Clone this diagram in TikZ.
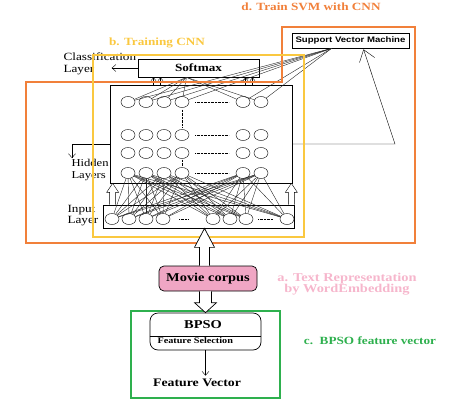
\documentclass[tikz,border=0pt]{standalone}
\usepackage{fontspec}
\setmainfont{Liberation Serif}[FakeStretch=1.2]
\setsansfont{Liberation Sans}[FakeStretch=1.2]
\usetikzlibrary{arrows.meta,calc,shapes.geometric}
\definecolor{svmorange}{RGB}{241,128,58}
\definecolor{cnnyellow}{RGB}{250,200,64}
\definecolor{bpsogreen}{RGB}{46,176,78}
\definecolor{wordpink}{RGB}{246,182,204}
\definecolor{corpuspink}{RGB}{240,166,196}

\begin{document}
\begin{tikzpicture}[x=1pt,y=-1pt,
  neuron/.style={draw,ellipse,minimum width=14pt,minimum height=11pt,inner sep=0pt},
  layerbox/.style={draw,line width=0.7pt,inner sep=0pt},
  wire/.style={line width=0.4pt,black!85},
  frame/.style={line width=2.6pt},
  barb/.style={-{Straight Barb[length=4pt,width=7pt]}},
  head/.style={font=\bfseries\fontsize{11}{13}\selectfont}]
\useasboundingbox (0,0) rectangle (474,413);

% stage labels
\node[head,text=svmorange] (svmlbl) at (311,7) {d. Train SVM with CNN};
\node[head,text=cnnyellow] (cnnlbl) at (157,43) {b. Training CNN};
\node[font=\bfseries\fontsize{12}{11}\selectfont,text=wordpink,align=center] (wordlbl) at (347,284) {a. Text Representation\\by WordEmbedding};
\node[head,text=bpsogreen] (bpsolbl) at (370,341) {c.\ \ BPSO feature vector};

% boxes
\node[layerbox,minimum width=117pt,minimum height=15pt,font=\sffamily\bfseries\fontsize{8}{9}\selectfont] (svm) at (350.5,40.5) {Support Vector Machine};
\node[layerbox,minimum width=121pt,minimum height=18pt,font=\bfseries\fontsize{11}{13}\selectfont] (softmax) at (198.5,68) {Softmax};
\node[layerbox,minimum width=182pt,minimum height=98pt] (hidbox) at (201,134) {};
\node[layerbox,minimum width=191pt,minimum height=23pt] (inbox) at (198.5,216.5) {};

% layer names
\node[font=\fontsize{11}{12}\selectfont,align=left,anchor=west] (clsname) at (60,64) {Classification\\Layer};
\node[font=\fontsize{10.5}{12}\selectfont,align=left,anchor=west] (hidname) at (68,170) {Hidden\\Layers};
\node[font=\fontsize{11}{11}\selectfont,align=left,anchor=west] (inname) at (64,215.5) {Input\\Layer};

% neurons
\foreach \row/\y in {1/102,2/135,3/153,4/173}
  \foreach \x [count=\i] in {128,146,164,182,243,261}
    \node[neuron] (r\row-\i) at (\x,\y) {};
\foreach \x [count=\i] in {112,129,146,163,213,230,246,287}
  \node[neuron] (in-\i) at (\x,219) {};
\foreach \row in {1,2,3,4}
  \draw[densely dotted,shorten <=6pt,shorten >=7pt] (r\row-4) -- (r\row-5);
\draw[densely dotted,shorten <=9pt,shorten >=17pt] (in-4) -- (in-5);
\draw[densely dotted,shorten <=5pt,shorten >=7pt] (in-7) -- (in-8);
\draw[densely dotted,shorten <=2pt,shorten >=2pt] (r1-4) -- (r2-4);
\draw[densely dotted,shorten <=1pt,shorten >=1pt] (r3-4) -- (r4-4);

% input to hidden
\foreach \i in {1,...,8}
  \foreach \j in {1,...,6}
    \draw[wire] (in-\i) -- (r4-\j);

% hidden to softmax and svm
\coordinate (smin) at ($(softmax.south)+(-12,0)$);
\coordinate (svmin) at ($(svm.south west)+(40,0)$);
\foreach \i in {1,...,6} {
  \draw[wire] (r1-\i) -- (smin);
  \draw[wire] (r1-\i) -- (svmin);
}
\foreach \dx in {-45,-38,47,54}
  \draw[-{Straight Barb[length=3pt,width=5pt]}] ($(softmax.south)+(\dx,8)$) -- ($(softmax.south)+(\dx,0)$);

% side connectors
\draw[barb] (softmax.west) -- ++(-26,0);
\coordinate (hidend) at (72,158);
\draw[barb] ($(hidbox.west)+(0,10)$) -| (hidend);
\coordinate (svmturn) at (395,144);
\draw[-{Straight Barb[length=11pt,width=16pt]}] ($(hidbox.east)+(0,10)$) -- (svmturn) -- ($(svm.south)+(13,1)$);

% hollow arrows between input and hidden box
\foreach \side/\dx in {north west/10,north east/-3} {
  \coordinate (b) at ($(inbox.\side)+(\dx,0)$);
  \coordinate (t) at (b |- hidbox.south);
  \draw[fill=white] ($(b)+(-3,0)$) -- ($(t)+(-3,9)$) -- ($(t)+(-6,9)$) -- (t)
    -- ($(t)+(6,9)$) -- ($(t)+(3,9)$) -- ($(b)+(3,0)$);
}

% frames
\draw[frame,svmorange] (26,82) -- (282,82) -- (282,27) -- (415,27) -- (415,243) -- (26,243) -- cycle;
\draw[frame,cnnyellow] (93,55) rectangle (304,237);
\draw[frame,bpsogreen] (131,311) rectangle (280,398);

% corpus and BPSO
\node[layerbox,fill=corpuspink,rounded corners=5pt,minimum width=98pt,minimum height=25pt,font=\bfseries\fontsize{12}{13}\selectfont] (corpus) at (208,278.5) {Movie corpus};
\node[layerbox,rounded corners=8pt,minimum width=111pt,minimum height=37pt] (bpso) at (205.5,331.5) {};
\draw[line width=0.7pt] ($(bpso.west)+(0,4.5)$) -- ($(bpso.east)+(0,4.5)$);
\node[font=\bfseries\fontsize{12}{13}\selectfont] (bpsoname) at (203,325) {BPSO};
\node[font=\bfseries\fontsize{8.5}{9}\selectfont,anchor=west] (fselname) at (154,341) {Feature Selection};
\node[font=\bfseries\fontsize{11.5}{13}\selectfont] (fvec) at (197,383) {Feature Vector};
\draw[barb] (bpso.south) -- (bpso.south |- fvec.north);

% hollow arrows for corpus
\coordinate (uptip) at ($(inbox.south)+(6,0)$);
\coordinate (upbase) at (uptip |- corpus.north);
\draw[fill=white,line width=0.7pt] ($(upbase)+(-5,0)$) -- ($(uptip)+(-5,19)$) -- ($(uptip)+(-10,19)$) -- (uptip)
  -- ($(uptip)+(10,19)$) -- ($(uptip)+(5,19)$) -- ($(upbase)+(5,0)$);
\coordinate (dntip) at (bpso.north);
\coordinate (dnbase) at (dntip |- corpus.south);
\draw[fill=white,line width=0.7pt] ($(dnbase)+(-6,0)$) -- ($(dntip)+(-6,-10)$) -- ($(dntip)+(-11,-10)$) -- (dntip)
  -- ($(dntip)+(11,-10)$) -- ($(dntip)+(6,-10)$) -- ($(dnbase)+(6,0)$);
\end{tikzpicture}
\end{document}
